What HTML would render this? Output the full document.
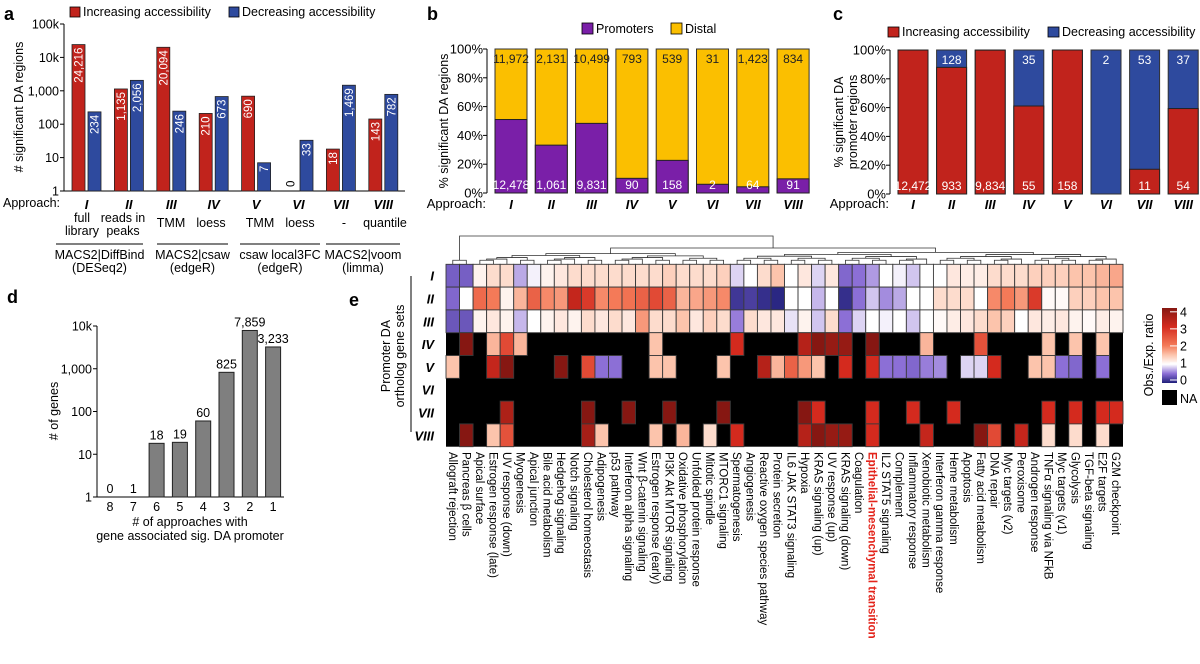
<!DOCTYPE html>
<html><head><meta charset="utf-8">
<style>
html,body{margin:0;padding:0;background:#fff;}
svg{display:block;font-family:"Liberation Sans",Arial,sans-serif;}
</style></head>
<body>
<svg id="fig" width="1200" height="664" viewBox="0 0 1200 664" xmlns="http://www.w3.org/2000/svg"></svg>
<script>
// ---------- DATA ----------
const approaches=['I','II','III','IV','V','VI','VII','VIII'];
const aInc=[24216,1135,20094,210,690,0,18,143];
const aDec=[234,2056,246,673,7,33,1469,782];
const aTicks=[1,10,100,1000,10000,100000];
const aTickLabels=['1','10','100','1,000','10k','100k'];
const bProm=[12478,1061,9831,90,158,2,64,91];
const bDist=[11972,2131,10499,793,539,31,1423,834];
const pctTicks=[0,0.2,0.4,0.6,0.8,1];
const pctLabels=['0%','20%','40%','60%','80%','100%'];
const cInc=[12472,933,9834,55,158,0,11,54];
const cDec=[6,128,10,35,0,2,53,37];
const dCats=['8','7','6','5','4','3','2','1'];
const dVals=[0,1,18,19,60,825,7859,3233];
const dTicks=[1,10,100,1000,10000];
const dTickLabels=['1','10','100','1,000','10k'];
const hmCols=['Allograft rejection','Pancreas β cells','Apical surface','Estrogen response (late)','UV response (down)','Myogenesis','Apical junction','Bile acid metabolism','Hedgehog signaling','Notch signaling','Cholesterol homeostasis','Adipogenesis','p53 pathway','Interferon alpha signaling','Wnt β-catenin signaling','Estrogen response (early)','PI3K Akt MTOR signaling','Oxidative phosphorylation','Unfolded protein response','Mitotic spindle','MTORC1 signaling','Spermatogenesis','Angiogenesis','Reactive oxygen species pathway','Protein secretion','IL6 JAK STAT3 signaling','Hypoxia','KRAS signaling (up)','UV response (up)','KRAS signaling (down)','Coagulation','Epithelial-mesenchymal transition','IL2 STAT5 signaling','Complement','Inflammatory response','Xenobiotic metabolism','Interferon gamma response','Heme metabolism','Apoptosis','Fatty acid metabolism','DNA repair','Myc targets (v2)','Peroxisome','Androgen response','TNFα signaling via NFkB','Myc targets (v1)','Glycolysis','TGF-beta signaling','E2F targets','G2M checkpoint'];
const n=null;
const hmI=[0.4,0.4,1.1,1.3,1.3,0.7,0.95,1.1,1.2,1.3,1.3,1.3,1.3,1.3,1.3,1.3,1.4,1.3,1.3,1.3,1.4,0.85,1.0,1.3,1.5,1.0,1.2,0.85,1.2,0.45,0.5,0.65,1.0,0.95,0.8,1.0,1.0,1.2,1.15,1.15,1.3,1.3,1.3,1.4,1.4,1.4,1.5,1.5,1.6,1.7];
const hmII=[0.45,1.0,2.2,2.0,1.1,1.6,2.3,1.9,1.8,3.2,2.8,1.9,2.0,2.1,2.3,2.6,2.3,1.6,1.7,1.8,1.9,0.15,0.2,0.1,0.05,1.0,1.0,0.75,1.0,0.1,0.5,0.8,0.6,0.7,1.0,1.0,1.3,1.3,1.3,1.0,1.9,2.0,1.8,2.8,1.05,1.05,1.4,1.4,1.5,1.5];
const hmIII=[0.35,0.35,1.1,1.2,1.1,0.75,1.0,1.1,1.2,1.1,1.3,1.2,1.3,1.2,1.8,1.3,1.3,1.5,1.2,1.4,1.3,0.55,1.3,1.2,1.2,0.9,1.1,0.8,1.3,0.5,0.85,1.0,0.95,1.0,0.8,1.0,1.05,1.15,1.2,1.3,1.5,1.4,1.0,1.2,1.15,1.2,1.1,1.05,1.15,1.1];
const hmIV=[n,4,n,1.6,2.6,1.6,n,n,n,n,n,n,n,n,n,1.5,n,n,n,n,n,3.0,n,n,n,n,3.4,4,3.8,3.8,n,4,n,n,n,1.6,n,n,n,2.5,n,n,n,n,1.5,n,1.5,n,1.5,n];
const hmV=[1.5,n,n,3.2,4,n,n,n,4,n,2.6,0.5,0.5,n,n,1.5,1.5,n,n,n,1.5,n,n,3.4,1.6,2.3,1.8,1.5,n,3.0,n,3.0,0.5,0.5,0.45,0.55,0.6,n,0.85,0.85,3.0,n,n,1.5,1.5,0.5,0.45,n,0.5,n];
const hmVI=[n,n,n,n,n,n,n,n,n,n,n,n,n,n,n,n,n,n,n,n,n,n,n,n,n,n,n,n,n,n,n,n,n,n,n,n,n,n,n,n,n,n,n,n,n,n,n,n,n,n];
const hmVII=[n,n,n,n,3.5,n,n,n,n,n,4,n,n,4,n,n,4,n,n,n,4,n,n,n,n,n,4,3.0,n,n,n,3.0,n,n,3.0,n,n,3.0,n,n,n,n,n,n,3.0,n,3.0,n,3.0,3.0];
const hmVIII=[n,4,n,1.5,2.5,n,n,n,n,n,3.6,1.5,n,n,n,1.5,n,1.6,n,1.3,n,3.0,n,n,n,n,3.4,4,3.8,3.8,n,3.0,n,n,n,3.2,n,n,n,4,2.6,n,3.2,n,1.3,n,1.3,n,1.3,n];
const hmRows=[hmI,hmII,hmIII,hmIV,hmV,hmVI,hmVII,hmVIII];

// ---------- HELPERS ----------
const NS='http://www.w3.org/2000/svg';
const svg=document.getElementById('fig');
function mk(tag,attrs,parent){const e=document.createElementNS(NS,tag);for(const k in attrs)e.setAttribute(k,attrs[k]);(parent||svg).appendChild(e);return e;}
function txt(x,y,s,attrs,parent){const e=mk('text',Object.assign({x:x,y:y},attrs||{}),parent);e.textContent=s;return e;}
function fmt(v){return v.toLocaleString('en-US');}
const RED='#c1231c',BLUE='#2e4a9e',PURP='#7a1fa8',YEL='#fbbf00';

// ---------- PANEL A ----------
const gA=mk('g',{});


let t=txt(4,20,'a',{'font-size':18,'font-weight':'bold'},gA);


const ayTop=24,ayBot=191;
function ayA(v){return ayBot-Math.log10(v)*(ayBot-ayTop)/5;}
let r=mk('rect',{x:70,y:7,width:10,height:10,fill:RED,stroke:'#000','stroke-width':0.8},gA);


t=txt(83,16,'Increasing accessibility',{'font-size':12.5},gA);


r=mk('rect',{x:229,y:7,width:10,height:10,fill:BLUE,stroke:'#000','stroke-width':0.8},gA);


t=txt(242,16,'Decreasing accessibility',{'font-size':12.5},gA);


let l=mk('line',{x1:64,y1:ayTop,x2:64,y2:ayBot,stroke:'#000','stroke-width':1},gA);


l=mk('line',{x1:64,y1:ayBot,x2:405,y2:ayBot,stroke:'#000','stroke-width':1},gA);


aTicks.forEach((v,i)=>{
  const y=ayA(v);
  const tk=mk('line',{x1:60,y1:y,x2:64,y2:y,stroke:'#000'},gA);
  
  
  const tl=txt(59,y+4.5,aTickLabels[i],{'font-size':12.5,'text-anchor':'end'},gA);
  
  
});
t=txt(0,0,'# significant DA regions',{'font-size':12.5,'text-anchor':'middle',transform:'translate(23,107) rotate(-90)'},gA);


function aBar(x,v,color,name){
  if(v>=1){
    const y=ayA(v);
    const b=mk('rect',{x:x,y:y,width:13,height:ayBot-y,fill:color,stroke:'#222','stroke-width':0.8},gA);
    
    
    const lb=txt(0,0,fmt(v),{'font-size':11.5,fill:'#fff','text-anchor':'end',transform:'translate('+(x+10.5)+','+(y+3)+') rotate(-90)'},gA);
    
    
  } else {
    const lb=txt(0,0,fmt(v),{'font-size':11.5,fill:'#000','text-anchor':'start',transform:'translate('+(x+10.5)+','+(ayBot-4)+') rotate(-90)'},gA);
    
    
  }
}
approaches.forEach((ap,i)=>{
  const x=72+i*42.4;
  aBar(x,aInc[i],RED,'bar-increasing-'+ap);
  aBar(x+16,aDec[i],BLUE,'bar-decreasing-'+ap);
  const al=txt(x+14.5,209,ap,{'font-size':13,'font-weight':'bold','font-style':'italic','text-anchor':'middle'},gA);
  
  
});
t=txt(60,207,'Approach:',{'font-size':12.5,'text-anchor':'end'},gA);


const aSub=[['full',82,222],['library',82,235],['reads in',123,222],['peaks',123,235],['TMM',171,227],['loess',211,227],['TMM',260,227],['loess',300,227],['-',344,227],['quantile',385,227]];
aSub.forEach(s=>{
  const e=txt(s[1],s[2],s[0],{'font-size':12.5,'text-anchor':'middle'},gA);
  
  
});
const aGroups=[[56,143,'MACS2|DiffBind','(DESeq2)'],[157,228,'MACS2|csaw','(edgeR)'],[240,320,'csaw local3FC','(edgeR)'],[326,400,'MACS2|voom','(limma)']];
aGroups.forEach(g=>{
  const gl=mk('line',{x1:g[0],y1:244,x2:g[1],y2:244,stroke:'#000'},gA);
  
  
  const c=(g[0]+g[1])/2;
  const t1=txt(c,259,g[2],{'font-size':12.5,'text-anchor':'middle'},gA);
  
  
  const t2=txt(c,272,g[3],{'font-size':12.5,'text-anchor':'middle'},gA);
  
  
});

// ---------- PANEL B / C stacked ----------
function stacked(opts){
  const g=mk('g',{});
  
  
  const yB=opts.y0,yT=opts.y1;
  function py(p){return yB-p*(yB-yT);}
  let e=mk('line',{x1:opts.ax,y1:yT,x2:opts.ax,y2:yB,stroke:'#000'},g);
  
  
  pctTicks.forEach((p,i)=>{
    const tk=mk('line',{x1:opts.ax-4,y1:py(p),x2:opts.ax,y2:py(p),stroke:'#000'},g);
    
    
    const tl=txt(opts.ax-4,py(p)+4.5,pctLabels[i],{'font-size':13,'text-anchor':'end'},g);
    
    
  });
  opts.bottom.forEach((bv,i)=>{
    const tv=opts.top[i];const tot=bv+tv;const fb=tot?bv/tot:0;
    const x=opts.bx+i*opts.step;
    const r1=mk('rect',{x:x,y:yT,width:opts.w,height:yB-yT,fill:opts.topColor,stroke:'#333','stroke-width':1},g);
    
    
    const r2=mk('rect',{x:x,y:py(fb),width:opts.w,height:yB-py(fb),fill:opts.botColor,stroke:'#222','stroke-width':1},g);
    
    
    const cx=x+opts.w/2;
    if(opts.showTop(tv,tot)){
      const tl=txt(cx,yT+14,fmt(tv),{'font-size':12,'text-anchor':'middle',fill:opts.topText},g);
      
      
    }
    if(bv>0){
      const bl=txt(cx,yB-4,fmt(bv),{'font-size':12,'text-anchor':'middle',fill:'#fff'},g);
      
      
    }
    const al=txt(cx,209,approaches[i],{'font-size':13,'font-weight':'bold','font-style':'italic','text-anchor':'middle'},g);
    
    
  });
  e=txt(opts.ax-1,208,'Approach:',{'font-size':13,'text-anchor':'end'},g);
  
  
  return g;
}
const gB=stacked({name:'panel-b',ax:487,y0:193,y1:49,bx:495,step:40.3,w:32,bottom:bProm,top:bDist,botColor:PURP,topColor:YEL,botName:'bar-promoters',topName:'bar-distal',topText:'#222',showTop:(v,tot)=>true});
t=txt(427,20,'b',{'font-size':18,'font-weight':'bold'},gB);


r=mk('rect',{x:582,y:23,width:11,height:11,fill:PURP,stroke:'#000','stroke-width':0.8},gB);


t=txt(596,33,'Promoters',{'font-size':12.5},gB);


r=mk('rect',{x:671,y:23,width:11,height:11,fill:YEL,stroke:'#000','stroke-width':0.8},gB);


t=txt(685,33,'Distal',{'font-size':12.5},gB);


t=txt(0,0,'% significant DA regions',{'font-size':12.5,'text-anchor':'middle',transform:'translate(448,121) rotate(-90)'},gB);



const gC=stacked({name:'panel-c',ax:890,y0:194,y1:50,bx:898,step:38.6,w:30,bottom:cInc,top:cDec,botColor:RED,topColor:BLUE,botName:'bar-increasing',topName:'bar-decreasing',topText:'#fff',showTop:(v,tot)=>v>0&&v/tot>0.05});
t=txt(833,20,'c',{'font-size':18,'font-weight':'bold'},gC);


r=mk('rect',{x:888,y:27,width:11,height:10,fill:RED,stroke:'#000','stroke-width':0.8},gC);


t=txt(902,36,'Increasing accessibility',{'font-size':12.5},gC);


r=mk('rect',{x:1048,y:27,width:11,height:10,fill:BLUE,stroke:'#000','stroke-width':0.8},gC);


t=txt(1062,36,'Decreasing accessibility',{'font-size':12.5},gC);


t=txt(0,0,'% significant DA',{'font-size':12.5,'text-anchor':'middle',transform:'translate(843,122) rotate(-90)'},gC);


t=txt(0,0,'promoter regions',{'font-size':12.5,'text-anchor':'middle',transform:'translate(857,122) rotate(-90)'},gC);



// ---------- PANEL D ----------
const gD=mk('g',{});


t=txt(7,303,'d',{'font-size':18,'font-weight':'bold'},gD);


const dyB=497,dyT=326;
function dy(v){return dyB-Math.log10(v)*(dyB-dyT)/4;}
l=mk('line',{x1:97,y1:dyT,x2:97,y2:dyB,stroke:'#000'},gD);


l=mk('line',{x1:97,y1:dyB,x2:284,y2:dyB,stroke:'#000'},gD);


dTicks.forEach((v,i)=>{
  const tk=mk('line',{x1:93,y1:dy(v),x2:97,y2:dy(v),stroke:'#000'},gD);
  
  
  const tl=txt(92,dy(v)+4.5,dTickLabels[i],{'font-size':12.5,'text-anchor':'end'},gD);
  
  
});
dCats.forEach((c,i)=>{
  const cx=110+i*23.3;const v=dVals[i];
  if(v>1){
    const b=mk('rect',{x:cx-7.5,y:dy(v),width:15,height:dyB-dy(v),fill:'#7f7f7f',stroke:'#222','stroke-width':1},gD);
    
    
  }
  const vl=txt(cx,(v>=1?dy(v):dyB)-4,fmt(v),{'font-size':12.5,'text-anchor':'middle'},gD);
  
  
  const xl=txt(cx,511,c,{'font-size':12.5,'text-anchor':'middle'},gD);
  
  
});
t=txt(190,526,'# of approaches with',{'font-size':12.5,'text-anchor':'middle'},gD);


t=txt(190,540,'gene associated sig. DA promoter',{'font-size':12.5,'text-anchor':'middle'},gD);


t=txt(0,0,'# of genes',{'font-size':12.5,'text-anchor':'middle',transform:'translate(58,411) rotate(-90)'},gD);



// ---------- PANEL E HEATMAP ----------
const gE=mk('g',{});


t=txt(349,306,'e',{'font-size':18,'font-weight':'bold'},gE);


const hx0=446,cw=13.54,hy0=264.3,rh=22.8;
const stops=[[0,[31,31,122]],[0.5,[140,111,214]],[1,[255,255,255]],[1.5,[252,196,172]],[2,[244,122,88]],[3,[212,42,30]],[4,[134,23,18]]];
function col(v){
  v=Math.max(0,Math.min(4,v));
  for(let i=1;i<stops.length;i++){
    if(v<=stops[i][0]){const a=stops[i-1],b=stops[i];const f=(v-a[0])/(b[0]-a[0]);
      return 'rgb('+a[1].map((c,k)=>Math.round(c+(b[1][k]-c)*f)).join(',')+')';}
  }
  return 'rgb(134,23,18)';
}
let bg=mk('rect',{x:hx0,y:hy0,width:cw*hmCols.length,height:rh*hmRows.length,fill:'#000'},gE);


hmRows.forEach((row,ri)=>{
  row.forEach((v,ci)=>{
    if(v===null)return;
    const c=mk('rect',{x:hx0+ci*cw,y:hy0+ri*rh,width:cw,height:rh,fill:col(v),stroke:'#3a3a3a','stroke-width':0.9},gE);
    
    
  });
  const rl=txt(hx0-12,hy0+ri*rh+rh/2+5,approaches[ri],{'font-size':13,'font-weight':'bold','font-style':'italic','text-anchor':'end'},gE);
  
  
});
hmCols.forEach((name,ci)=>{
  const cx=hx0+ci*cw+cw/2-4;
  const isEmt=name==='Epithelial-mesenchymal transition';
  const cl=txt(0,0,name,{'font-size':11.5,fill:isEmt?'#e3241b':'#000','font-weight':isEmt?'bold':'normal',transform:'translate('+cx+',452) rotate(90)'},gE);
  
  
});
l=mk('line',{x1:411,y1:276,x2:411,y2:432,stroke:'#000'},gE);


t=txt(0,0,'Promoter DA',{'font-size':12.5,'text-anchor':'middle',transform:'translate(390,356) rotate(-90)'},gE);


t=txt(0,0,'ortholog gene sets',{'font-size':12.5,'text-anchor':'middle',transform:'translate(404,356) rotate(-90)'},gE);



// dendrogram (structure approximated)
const dg=mk('g',{},gE);


function branch(L,R,y){
  const p=mk('path',{d:'M'+L.x+','+L.y+'V'+y+'H'+R.x+'V'+R.y,fill:'none',stroke:'#333','stroke-width':0.8},dg);
  
  
  return {x:(L.x+R.x)/2,y:y};
}
function dendro(a,b){
  const size=b-a;
  if(size===1)return {x:hx0+a*cw+cw/2,y:hy0};
  const y=hy0-2-Math.log(size)/Math.log(30)*10;
  const m=a+Math.max(1,Math.round(size*0.5));
  return branch(dendro(a,m),dendro(m,b),y);
}
const dLeft=dendro(0,2);
const dMidA=dendro(2,21);
const dMidB=dendro(21,50);
const dRest=branch(dMidA,dMidB,248);
branch(dLeft,dRest,236);

// colour legend
const gL=mk('g',{},gE);


const defs=mk('defs',{},gL);
const lg=mk('linearGradient',{id:'cg',x1:0,y1:1,x2:0,y2:0},defs);
stops.forEach(s=>{mk('stop',{offset:s[0]/4,'stop-color':col(s[0])},lg);});
r=mk('rect',{x:1162,y:308,width:15,height:75,fill:'url(#cg)'},gL);


[4,3,2,1,0].forEach(v=>{
  const y=383-v*75/4.4-3;
  const lb=txt(1180,y+4.5,String(v),{'font-size':12.5},gL);
  
  
  const tk=mk('line',{x1:1170,y1:y,x2:1177,y2:y,stroke:'#fff','stroke-width':1},gL);
  
  
});
r=mk('rect',{x:1162,y:390,width:15,height:15,fill:'#000'},gL);


t=txt(1180,403,'NA',{'font-size':12.5},gL);


t=txt(0,0,'Obs./Exp. ratio',{'font-size':12.5,'text-anchor':'middle',transform:'translate(1153,355) rotate(-90)'},gL);


</script>
</body></html>
